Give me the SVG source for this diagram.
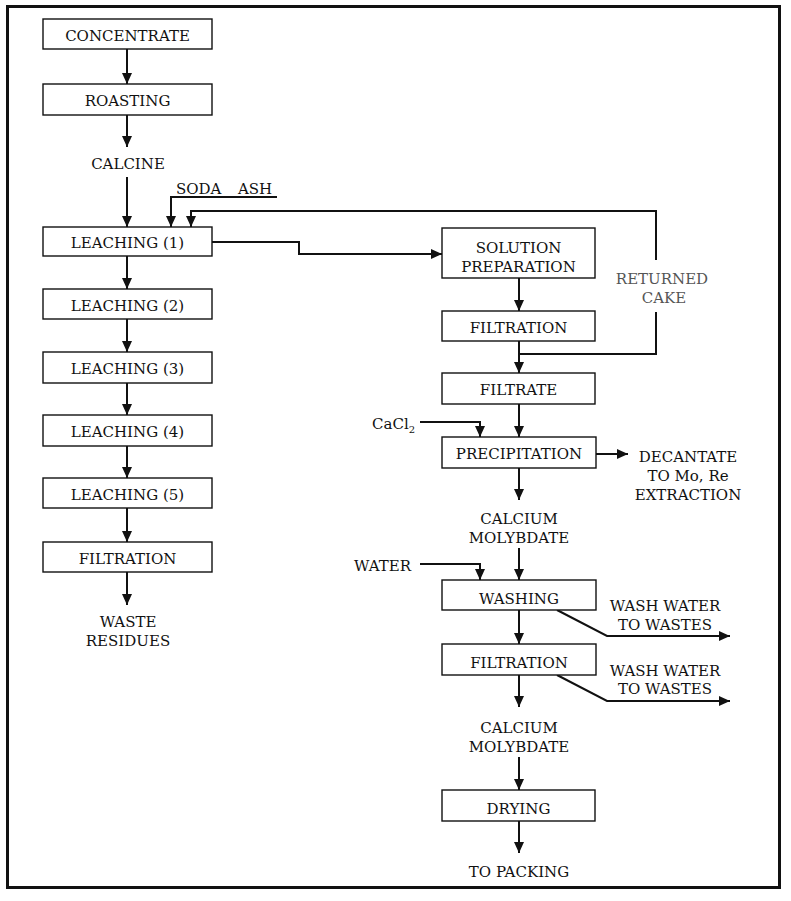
<svg xmlns="http://www.w3.org/2000/svg" width="791" height="901" viewBox="0 0 791 901">
<style>
.box{fill:#fff;stroke:#111;stroke-width:1.4}
.t{font-family:"DejaVu Serif","Liberation Serif",serif;font-size:15px;fill:#111;text-anchor:middle}
.ts{font-family:"DejaVu Serif","Liberation Serif",serif;font-size:15px;fill:#111}
.g{fill:#555}
.c{fill:none;stroke:#111;stroke-width:2}
.a{marker-end:url(#ah)}
</style>
<defs>
<marker id="ah" markerUnits="userSpaceOnUse" markerWidth="12" markerHeight="12" refX="11" refY="5" orient="auto">
<path d="M0,0 L11,5 L0,10 z" fill="#111"/>
</marker>
</defs>
<rect x="0" y="0" width="791" height="901" fill="#fff"/>
<rect x="7.5" y="6.5" width="772" height="881" fill="none" stroke="#111" stroke-width="3"/>

<g id="connectors">
<path class="c a" d="M127,49 V84"/>
<path class="c a" d="M127,115 V147"/>
<path class="c a" d="M127,177 V227"/>
<path class="c a" d="M127,256 V289"/>
<path class="c a" d="M127,319 V352"/>
<path class="c a" d="M127,383 V415"/>
<path class="c a" d="M127,446 V478"/>
<path class="c a" d="M127,508 V542"/>
<path class="c a" d="M127,572 V605"/>
<path class="c a" d="M277,197 H171 V227"/>
<path class="c a" d="M656,260 V211 H191 V227"/>
<path class="c" d="M519,354 H656 V312"/>
<path class="c a" d="M212,242 H299 V254 H442"/>
<path class="c a" d="M519,278 V311"/>
<path class="c a" d="M519,341 V373"/>
<path class="c a" d="M519,404 V437"/>
<path class="c a" d="M519,468 V500"/>
<path class="c a" d="M519,548 V580"/>
<path class="c a" d="M519,610 V644"/>
<path class="c a" d="M519,675 V707"/>
<path class="c a" d="M519,757 V790"/>
<path class="c a" d="M519,821 V853"/>
<path class="c a" d="M420,422 H480 V437"/>
<path class="c a" d="M420,564 H480 V580"/>
<path class="c a" d="M596,454 H628"/>
<path class="c a" d="M557,610 L607,636 H730"/>
<path class="c a" d="M557,675 L607,701 H730"/>
</g>

<g id="concentrate"><rect class="box" x="43" y="19" width="169" height="30"/><text class="t" x="127.5" y="41">CONCENTRATE</text></g>
<g id="roasting"><rect class="box" x="43" y="84" width="169" height="31"/><text class="t" x="127.5" y="106">ROASTING</text></g>
<g id="calcine"><text class="t" x="128" y="169">CALCINE</text></g>
<g id="soda-ash"><text class="ts" x="176" y="194">SODA</text><text class="ts" x="238" y="194">ASH</text></g>
<g id="leaching1"><rect class="box" x="43" y="227" width="169" height="29"/><text class="t" x="127.5" y="248">LEACHING (1)</text></g>
<g id="leaching2"><rect class="box" x="43" y="289" width="169" height="30"/><text class="t" x="127.5" y="310.5">LEACHING (2)</text></g>
<g id="leaching3"><rect class="box" x="43" y="352" width="169" height="31"/><text class="t" x="127.5" y="374">LEACHING (3)</text></g>
<g id="leaching4"><rect class="box" x="43" y="415" width="169" height="31"/><text class="t" x="127.5" y="437">LEACHING (4)</text></g>
<g id="leaching5"><rect class="box" x="43" y="478" width="169" height="30"/><text class="t" x="127.5" y="499.5">LEACHING (5)</text></g>
<g id="filtration-left"><rect class="box" x="43" y="542" width="169" height="30"/><text class="t" x="127.5" y="563.5">FILTRATION</text></g>
<g id="waste-residues"><text class="t" x="128" y="626.5">WASTE</text><text class="t" x="128" y="645.5">RESIDUES</text></g>

<g id="solution-preparation"><rect class="box" x="442" y="228" width="153" height="50"/><text class="t" x="518.5" y="252.5">SOLUTION</text><text class="t" x="518.5" y="271.5">PREPARATION</text></g>
<g id="returned-cake"><text class="t g" x="662" y="283.5">RETURNED</text><text class="t g" x="664" y="302.5">CAKE</text></g>
<g id="filtration1"><rect class="box" x="442" y="311" width="153" height="30"/><text class="t" x="518.5" y="332.5">FILTRATION</text></g>
<g id="filtrate"><rect class="box" x="442" y="373" width="153" height="31"/><text class="t" x="518.5" y="395">FILTRATE</text></g>
<g id="cacl2"><text class="ts" x="372" y="429">CaCl<tspan font-size="10" dy="4">2</tspan></text></g>
<g id="precipitation"><rect class="box" x="442" y="437" width="154" height="31"/><text class="t" x="519" y="459">PRECIPITATION</text></g>
<g id="decantate"><text class="t" x="688" y="461.5">DECANTATE</text><text class="t" x="688" y="480.5">TO Mo, Re</text><text class="t" x="688" y="499.5">EXTRACTION</text></g>
<g id="calcium-molybdate1"><text class="t" x="519" y="523.5">CALCIUM</text><text class="t" x="519" y="542.5">MOLYBDATE</text></g>
<g id="water"><text class="ts" x="354" y="570.5">WATER</text></g>
<g id="washing"><rect class="box" x="442" y="580" width="154" height="30"/><text class="t" x="519" y="603.5">WASHING</text></g>
<g id="wash-water1"><text class="t" x="665" y="610.5">WASH WATER</text><text class="t" x="665" y="629.5">TO WASTES</text></g>
<g id="filtration2"><rect class="box" x="442" y="644" width="154" height="31"/><text class="t" x="519" y="667.5">FILTRATION</text></g>
<g id="wash-water2"><text class="t" x="665" y="675.5">WASH WATER</text><text class="t" x="665" y="693.5">TO WASTES</text></g>
<g id="calcium-molybdate2"><text class="t" x="519" y="732.5">CALCIUM</text><text class="t" x="519" y="751.5">MOLYBDATE</text></g>
<g id="drying"><rect class="box" x="442" y="790" width="153" height="31"/><text class="t" x="518.5" y="813.5">DRYING</text></g>
<g id="to-packing"><text class="t" x="519" y="876.5">TO PACKING</text></g>
</svg>
